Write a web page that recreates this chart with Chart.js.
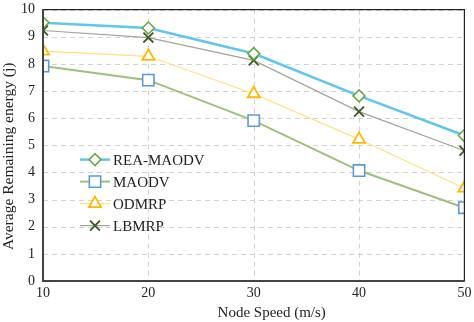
<!DOCTYPE html>
<html>
<head>
<meta charset="utf-8">
<script src="https://cdn.jsdelivr.net/npm/chart.js@4/dist/chart.umd.min.js"></script>
<style>
  html, body { margin: 0; padding: 0; background: #fff; overflow: hidden; }
  #wrap { width: 474px; height: 322px; position: relative; }
</style>
</head>
<body>
<div id="wrap"><canvas id="chart" width="474" height="322"></canvas></div>
<script>
// node speed (m/s)
const speeds = [10, 20, 30, 40, 50];
const seriesNames = ['REA-MAODV', 'MAODV', 'ODMRP', 'LBMRP'];
const reaMaodv = [9.52, 9.32, 8.38, 6.82, 5.36];
const maodv = [7.92, 7.40, 5.91, 4.07, 2.70];
const odmrp = [8.47, 8.28, 6.90, 5.22, 3.42];
const lbmrp = [9.23, 8.97, 8.13, 6.24, 4.80];
const yTicks = [0, 1, 2, 3, 4, 5, 6, 7, 8, 9, 10];
const xTitle = 'Node Speed (m/s)';
const yTitle = 'Average Remaining energy (j)';

const serif = '"Liberation Serif", "Times New Roman", serif';

function pts(vals) {
    return vals.map((v, i) => ({ x: speeds[i], y: v }));
}

const datasets = [
    { label: seriesNames[0], data: pts(reaMaodv), borderColor: '#5fc6ee', borderWidth: 2.5,
      pointStyle: 'rectRot', pointRadius: 6, pointBorderColor: '#6aa842', pointBorderWidth: 1.6 },
    { label: seriesNames[1], data: pts(maodv), borderColor: '#9dc07c', borderWidth: 2,
      pointStyle: 'rect', pointRadius: 8, pointBorderColor: '#5b9bd5', pointBorderWidth: 1.6 },
    { label: seriesNames[2], data: pts(odmrp), borderColor: '#ffe27d', borderWidth: 1.2,
      pointStyle: 'triangle', pointRadius: 7, pointBorderColor: '#ffb800', pointBorderWidth: 1.8 },
    { label: seriesNames[3], data: pts(lbmrp), borderColor: '#a3a397', borderWidth: 1.2,
      pointStyle: 'crossRot', pointRadius: 7, pointBorderColor: '#3a5a28', pointBorderWidth: 1.8 }
];
datasets.forEach(d => {
    d.pointBackgroundColor = '#ffffff';
    d.fill = false;
    d.tension = 0;
});

// dashed grid from the scales' own ticks
const gridPlugin = {
    id: 'dashGrid',
    beforeDatasetsDraw(chart) {
        const { ctx, chartArea: a, scales } = chart;
        ctx.save();
        ctx.strokeStyle = '#d2d2d2';
        ctx.lineWidth = 1;
        ctx.setLineDash([5, 4]);
        ctx.beginPath();
        scales.y.ticks.forEach(t => {
            const y = Math.round(scales.y.getPixelForValue(t.value)) + 0.5;
            ctx.moveTo(a.left, y);
            ctx.lineTo(a.right, y);
        });
        scales.x.ticks.forEach(t => {
            const x = Math.round(scales.x.getPixelForValue(t.value)) + 0.5;
            ctx.moveTo(x, a.top);
            ctx.lineTo(x, a.bottom);
        });
        ctx.stroke();
        ctx.restore();
    }
};

// frame, axis titles and legend (line + marker) drawn by hand
const framePlugin = {
    id: 'frame',
    afterDatasetsDraw(chart) {
        const { ctx, chartArea: a } = chart;
        ctx.save();
        ctx.strokeStyle = '#222';
        ctx.lineWidth = 1.2;
        ctx.strokeRect(a.left, a.top, a.right - a.left, a.bottom - a.top);
        ctx.strokeStyle = '#444';
        ctx.lineWidth = 2;
        ctx.beginPath();
        ctx.moveTo(a.left, a.top);
        ctx.lineTo(a.left, a.bottom);
        ctx.lineTo(a.right, a.bottom);
        ctx.stroke();

        // axis titles
        ctx.fillStyle = '#222';
        ctx.font = '15px ' + serif;
        ctx.textAlign = 'center';
        ctx.textBaseline = 'middle';
        ctx.fillText(xTitle, (a.left + a.right) / 2 + 18, 313);
        ctx.save();
        ctx.translate(9, (a.top + a.bottom) / 2 + 11);
        ctx.rotate(-Math.PI / 2);
        ctx.font = '15.5px ' + serif;
        ctx.fillText(yTitle, 0, 0);
        ctx.restore();

        // legend
        const x0 = a.left + 37, y0 = a.top + 150, gap = 22;
        ctx.font = '15px ' + serif;
        ctx.textAlign = 'left';
        chart.data.datasets.forEach((d, i) => {
            const y = y0 + i * gap;
            ctx.strokeStyle = d.borderColor;
            ctx.lineWidth = d.borderWidth;
            ctx.beginPath();
            ctx.moveTo(x0, y);
            ctx.lineTo(x0 + 30, y);
            ctx.stroke();
            ctx.fillStyle = '#fff';
            ctx.strokeStyle = d.pointBorderColor;
            ctx.lineWidth = d.pointBorderWidth;
            Chart.helpers.drawPoint(ctx, { pointStyle: d.pointStyle, radius: d.pointRadius, rotation: 0, borderWidth: d.pointBorderWidth }, x0 + 15, y);
            ctx.fillStyle = '#222';
            ctx.fillText(d.label, x0 + 33, y + 1);
        });
        ctx.restore();
    }
};

new Chart(document.getElementById('chart'), {
    type: 'line',
    data: { datasets },
    options: {
        responsive: false,
        animation: false,
        layout: { padding: { top: 7.5, right: 8, bottom: 21, left: 21 } },
        plugins: { legend: { display: false }, tooltip: { enabled: false } },
        scales: {
            x: {
                type: 'linear', min: 10, max: 50,
                ticks: { stepSize: 10, color: '#222', font: { family: serif, size: 14 }, padding: 4 },
                grid: { display: false, tickLength: 0 },
                border: { display: false },
                afterFit(s) { s.paddingRight = 0; s.paddingLeft = 0; s.height = 20; }
            },
            y: {
                min: 0, max: 10,
                afterBuildTicks(s) { s.ticks = yTicks.map(v => ({ value: v })); },
                ticks: { color: '#222', font: { family: serif, size: 14 }, padding: 8 },
                grid: { display: false, tickLength: 0 },
                border: { display: false },
                afterFit(s) { s.paddingTop = 0; s.paddingBottom = 0; s.width = 22; }
            }
        }
    },
    plugins: [gridPlugin, framePlugin]
});
</script>
</body>
</html>
